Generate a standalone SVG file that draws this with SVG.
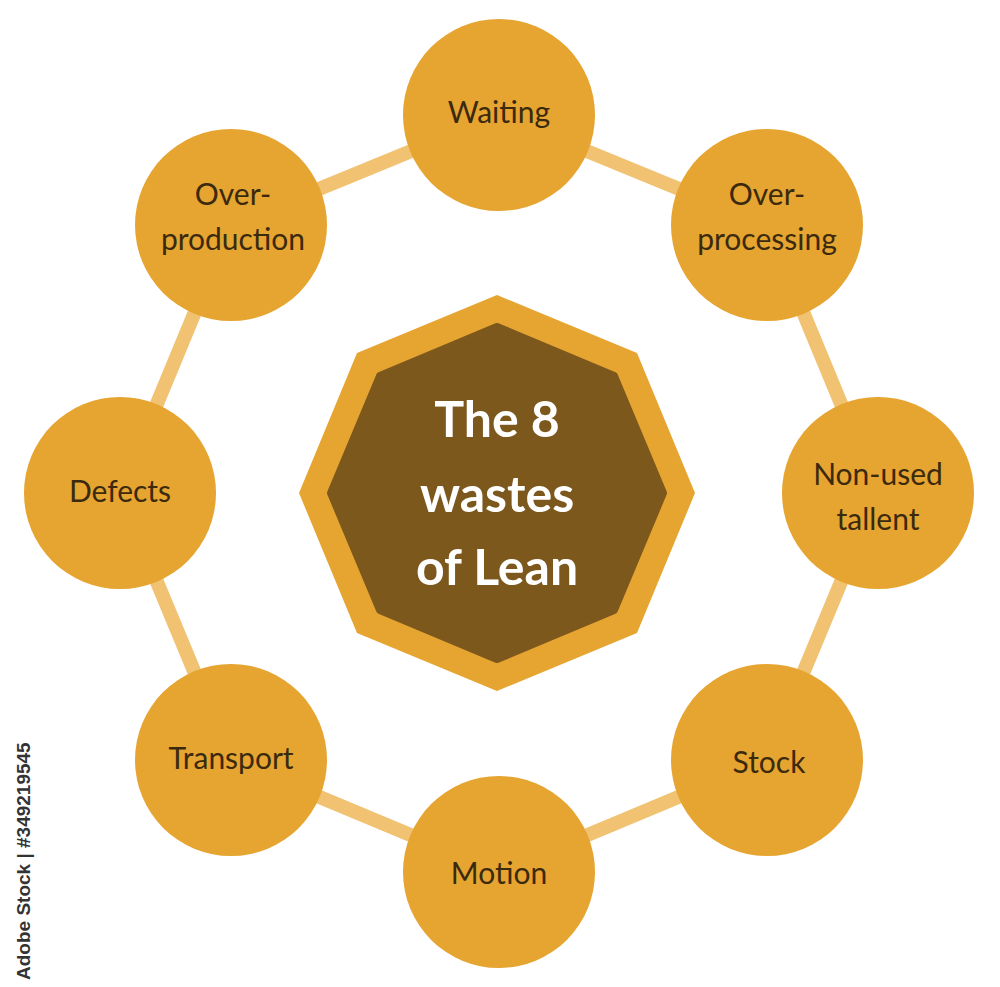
<svg xmlns="http://www.w3.org/2000/svg" width="1000" height="987" viewBox="0 0 1000 987">
<style>
.n{fill:#e6a431}
.t{font-family:Lato,"Open Sans",sans-serif;font-size:30px;fill:#3b2a0e;text-anchor:middle}
.c{font-family:Lato,"Open Sans",sans-serif;font-size:50px;font-weight:bold;fill:#fff;text-anchor:middle}
.e{stroke:#f0c272;stroke-width:14;fill:none}
</style>
<rect width="1000" height="987" fill="#fff"/>
<g id="connectors">
<polygon class="e" points="499,115 767,225 878,493 767,760 499,872 231,760 120,493 231,225"/>
</g>
<g id="hub">
<polygon fill="#e6a431" points="497,295 637,353 695,493 637,633 497,691 357,633 299,493 357,353"/>
<polygon fill="#7c581d" stroke="#7c581d" stroke-width="8" stroke-linejoin="round" points="497,327 614,376 663,493 614,610 497,659 380,610 331,493 380,376"/>
<text class="c" x="497" y="437">The 8</text>
<text class="c" x="497" y="512">wastes</text>
<text class="c" x="497" y="585">of Lean</text>
</g>
<g id="waiting"><circle class="n" cx="499" cy="115" r="96"/><text class="t" x="499" y="123">Waiting</text></g>
<g id="overprocessing"><circle class="n" cx="767" cy="225" r="96"/><text class="t" x="767" y="205">Over-</text><text class="t" x="767" y="250">processing</text></g>
<g id="nonused"><circle class="n" cx="878" cy="493" r="96"/><text class="t" x="878" y="485">Non-used</text><text class="t" x="878" y="530">tallent</text></g>
<g id="stock"><circle class="n" cx="767" cy="760" r="96"/><text class="t" x="769" y="773">Stock</text></g>
<g id="motion"><circle class="n" cx="499" cy="872" r="96"/><text class="t" x="499" y="884">Motion</text></g>
<g id="transport"><circle class="n" cx="231" cy="760" r="96"/><text class="t" x="231" y="769">Transport</text></g>
<g id="defects"><circle class="n" cx="120" cy="493" r="96"/><text class="t" x="120" y="502">Defects</text></g>
<g id="overproduction"><circle class="n" cx="231" cy="225" r="96"/><text class="t" x="233" y="205">Over-</text><text class="t" x="233" y="250">production</text></g>
<text x="30" y="980" transform="rotate(-90 30 980)" font-family="Liberation Sans,sans-serif" font-size="19" font-weight="bold" fill="#333">Adobe Stock | #349219545</text>
</svg>
